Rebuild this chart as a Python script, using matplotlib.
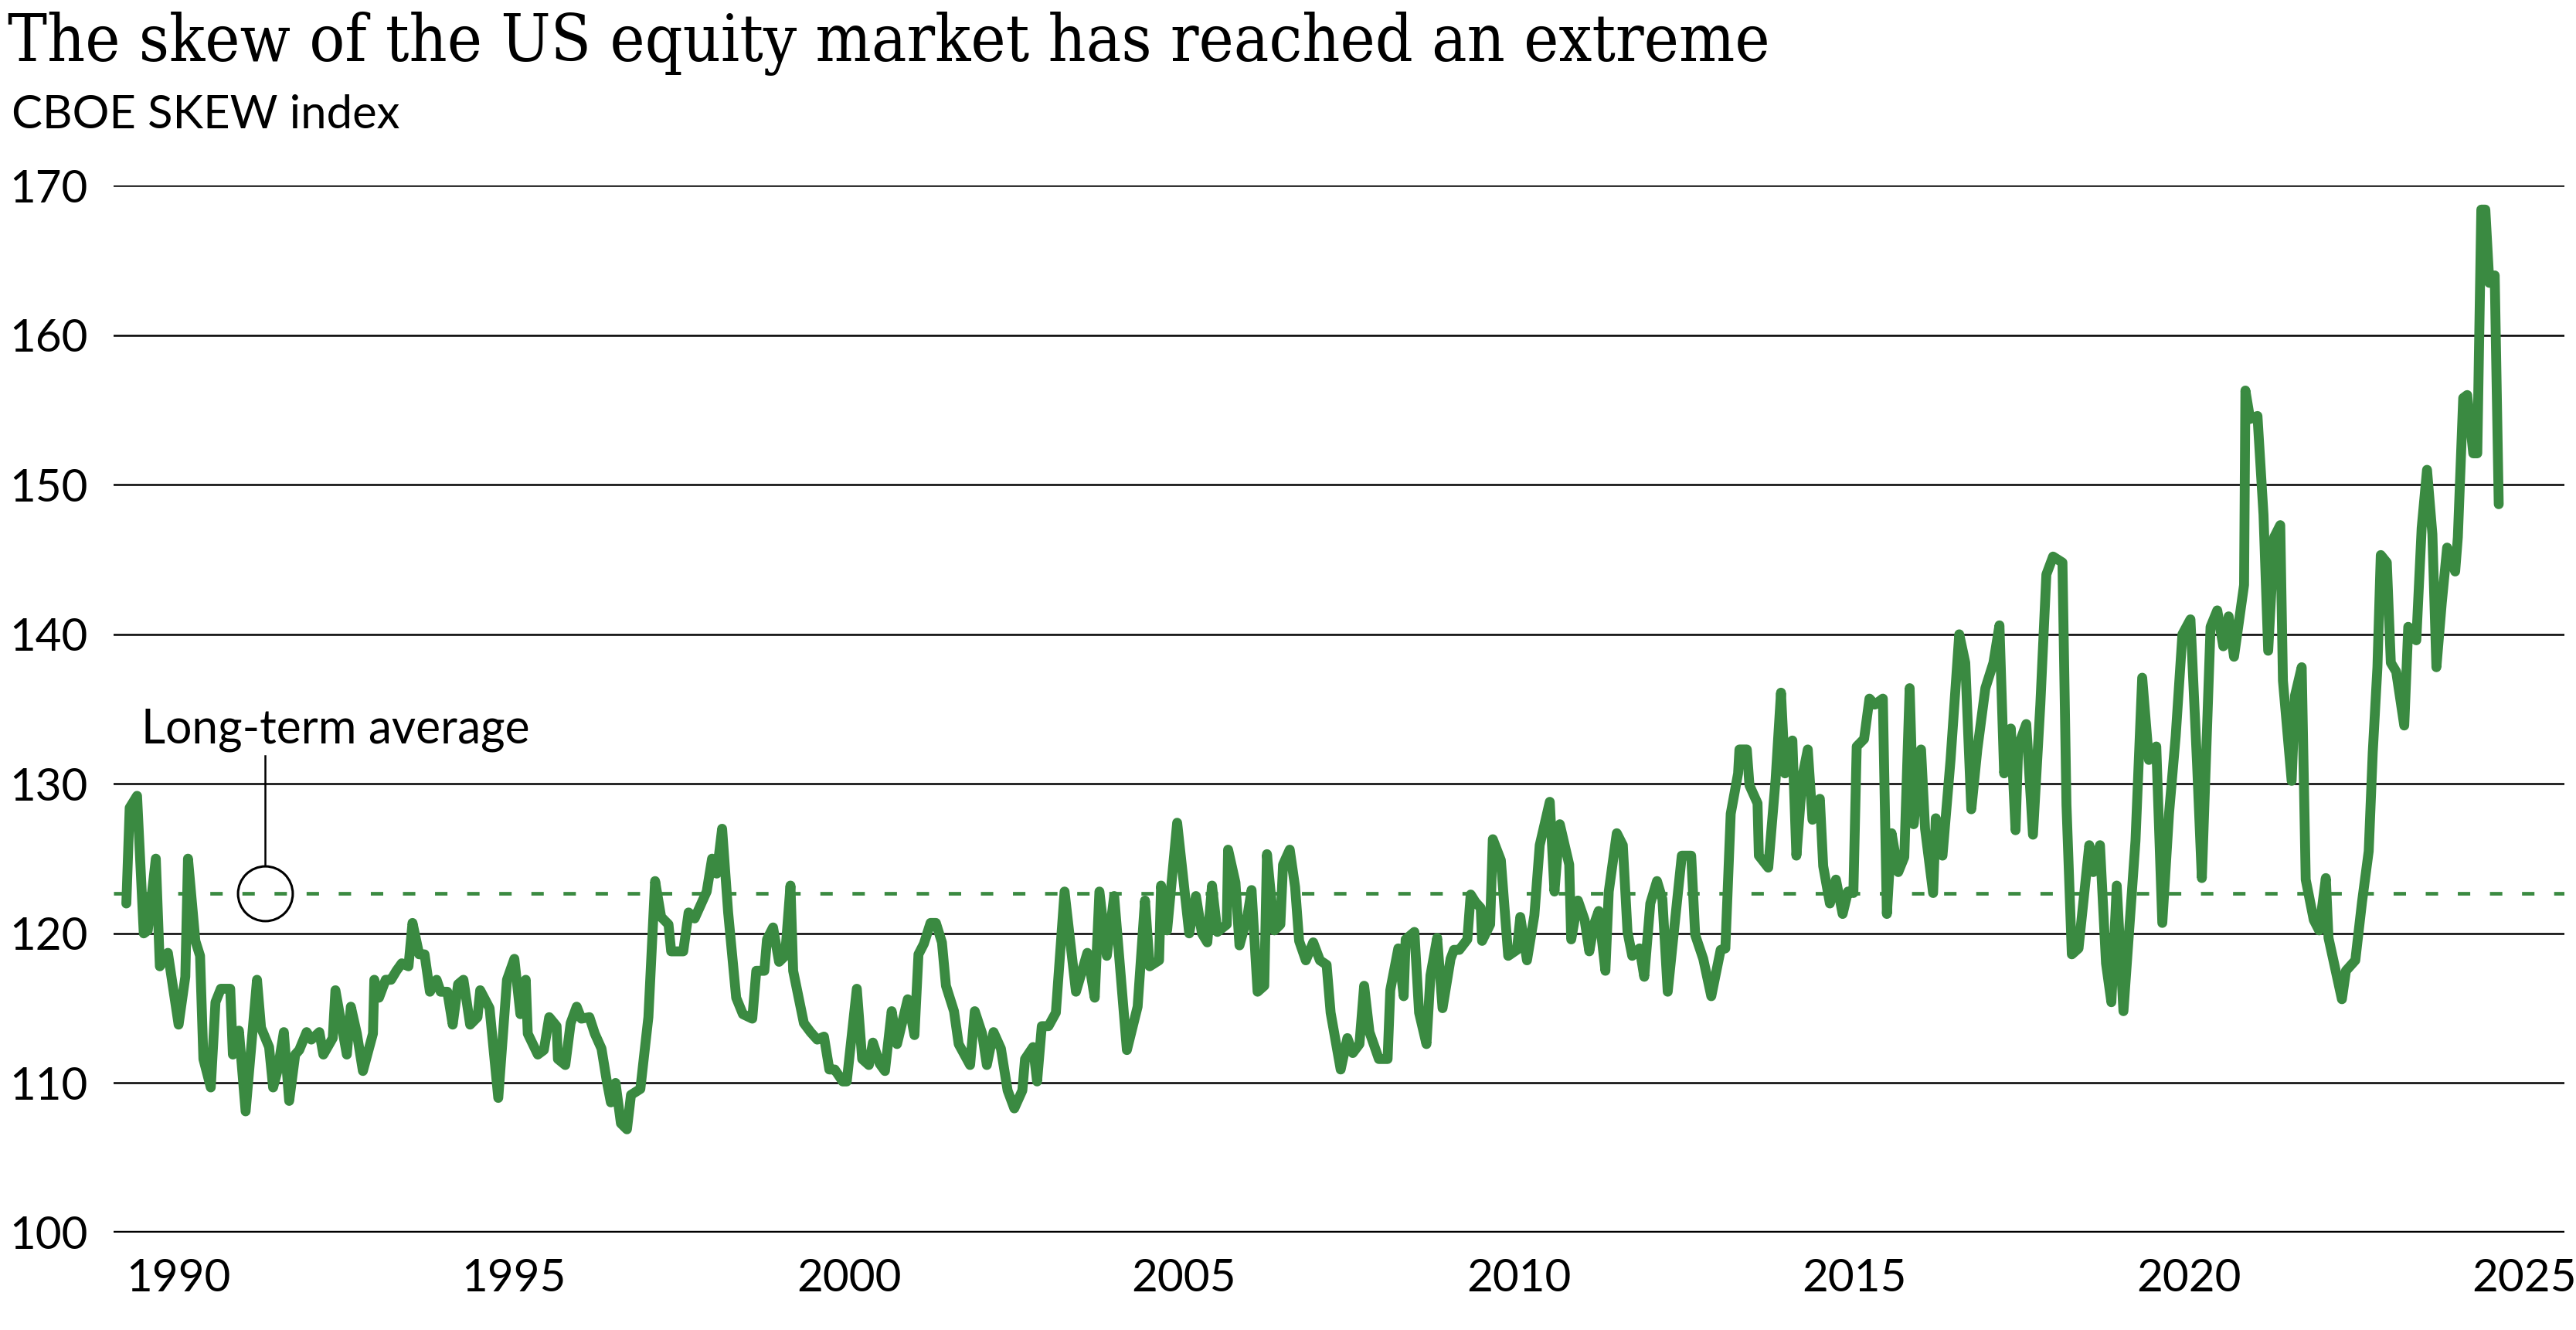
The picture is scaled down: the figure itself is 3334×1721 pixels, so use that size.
import matplotlib
matplotlib.use("Agg")
import matplotlib.pyplot as plt
import numpy as np

# CBOE SKEW index (decimal year, index level)
dates_1990 = [1990.00, 1990.05, 1990.16, 1990.26, 1990.32, 1990.44, 1990.50, 1990.62, 1990.78, 1990.88,
              1990.92, 1991.03, 1991.10, 1991.15, 1991.26, 1991.33, 1991.41, 1991.55, 1991.59, 1991.68,
              1991.78, 1991.95, 1992.01, 1992.13, 1992.19, 1992.26, 1992.35, 1992.43, 1992.52, 1992.58,
              1992.69, 1992.76, 1992.88, 1992.94, 1993.08, 1993.12, 1993.29, 1993.35, 1993.44, 1993.53,
              1993.68, 1993.70, 1993.77, 1993.87, 1993.95, 1994.03, 1994.11, 1994.21, 1994.27, 1994.37,
              1994.45, 1994.53, 1994.63, 1994.69, 1994.79, 1994.87, 1994.95, 1995.03, 1995.13, 1995.24,
              1995.28, 1995.42, 1995.55, 1995.68, 1995.79, 1995.88, 1995.96]
skew_1990 = [122.0, 128.4, 129.2, 120.0, 120.2, 125.0, 117.8, 118.7, 113.9, 117.1,
             125.0, 119.5, 118.5, 111.6, 109.7, 115.4, 116.3, 116.3, 111.9, 113.5,
             108.1, 116.9, 113.7, 112.4, 109.7, 110.9, 113.4, 108.8, 111.9, 112.2,
             113.4, 112.9, 113.4, 111.9, 113.0, 116.2, 111.9, 115.1, 113.3, 110.8,
             113.3, 116.9, 115.7, 116.9, 116.9, 117.5, 118.0, 117.8, 120.7, 118.6,
             118.6, 116.1, 116.9, 116.1, 116.1, 113.9, 116.6, 116.9, 113.9, 114.4,
             116.2, 115.0, 109.0, 116.9, 118.3, 114.6, 116.9]

dates_1996 = [1995.99, 1996.14, 1996.23, 1996.31, 1996.42, 1996.44, 1996.55, 1996.63, 1996.72, 1996.79,
              1996.91, 1996.99, 1997.09, 1997.17, 1997.23, 1997.30, 1997.38, 1997.47, 1997.53, 1997.67,
              1997.79, 1997.89, 1997.98, 1998.09, 1998.13, 1998.31, 1998.39, 1998.48, 1998.66, 1998.74,
              1998.81, 1998.89, 1998.98, 1999.10, 1999.20, 1999.34, 1999.40, 1999.52, 1999.56, 1999.65,
              1999.74, 1999.83, 1999.91, 1999.95, 2000.11, 2000.21, 2000.31, 2000.41, 2000.49, 2000.57,
              2000.69, 2000.75, 2000.90, 2000.98, 2001.08, 2001.14, 2001.24, 2001.32, 2001.42, 2001.50,
              2001.66, 2001.76]
skew_1996 = [113.3, 111.9, 112.2, 114.4, 113.8, 111.6, 111.2, 114.0, 115.1, 114.3,
             114.4, 113.3, 112.3, 110.1, 108.7, 110.0, 107.3, 106.9, 109.2, 109.6,
             114.4, 123.5, 121.1, 120.6, 118.8, 118.8, 121.4, 121.0, 122.8, 125.0,
             124.0, 127.0, 121.4, 115.7, 114.6, 114.3, 117.5, 117.5, 119.6, 120.4,
             118.1, 118.5, 123.2, 117.5, 114.0, 113.4, 112.9, 113.1, 110.9, 110.9,
             110.1, 110.1, 116.3, 111.6, 111.2, 112.7, 111.3, 110.8, 114.8, 112.6,
             115.6, 113.2]

dates_2002 = [2001.82, 2001.90, 2002.00, 2002.08, 2002.17, 2002.23, 2002.35, 2002.42, 2002.59, 2002.66,
              2002.77, 2002.84, 2002.94, 2003.05, 2003.15, 2003.25, 2003.37, 2003.41, 2003.53, 2003.59,
              2003.66, 2003.76, 2003.87, 2004.00, 2004.17, 2004.34, 2004.45, 2004.52, 2004.63, 2004.74,
              2004.93, 2005.09, 2005.20, 2005.27, 2005.41, 2005.44, 2005.53, 2005.68, 2005.86, 2005.96,
              2006.05, 2006.13, 2006.20, 2006.28, 2006.42, 2006.44, 2006.55, 2006.61, 2006.73, 2006.79,
              2006.88, 2006.98, 2007.02, 2007.13, 2007.22, 2007.26, 2007.36, 2007.44, 2007.50, 2007.60,
              2007.71, 2007.81]
skew_2002 = [118.6, 119.3, 120.7, 120.7, 119.4, 116.5, 114.8, 112.6, 111.2, 114.8,
             113.3, 111.2, 113.4, 112.3, 109.5, 108.3, 109.5, 111.6, 112.4, 110.1,
             113.8, 113.8, 114.7, 122.8, 116.1, 118.7, 115.7, 122.8, 118.5, 122.5,
             112.2, 115.1, 122.2, 117.8, 118.2, 123.2, 120.2, 127.4, 120.0, 122.5,
             120.0, 119.4, 123.2, 120.1, 120.6, 125.6, 123.4, 119.2, 121.2, 122.9,
             116.1, 116.5, 125.3, 120.2, 120.6, 124.6, 125.6, 123.1, 119.5, 118.2,
             119.4, 118.2]

dates_2008 = [2007.91, 2007.97, 2008.12, 2008.22, 2008.30, 2008.40, 2008.47, 2008.55, 2008.69, 2008.82,
              2008.86, 2008.98, 2009.06, 2009.09, 2009.22, 2009.29, 2009.40, 2009.46, 2009.56, 2009.64,
              2009.76, 2009.81, 2009.89, 2010.01, 2010.06, 2010.13, 2010.21, 2010.23, 2010.35, 2010.39,
              2010.51, 2010.62, 2010.75, 2010.80, 2010.90, 2011.01, 2011.09, 2011.24, 2011.31, 2011.39,
              2011.53, 2011.56, 2011.66, 2011.76, 2011.83, 2011.90, 2011.97, 2012.07, 2012.12, 2012.24,
              2012.33, 2012.40, 2012.47, 2012.58, 2012.65, 2012.74, 2012.84, 2012.92, 2013.00, 2013.11,
              2013.21, 2013.35, 2013.41, 2013.53, 2013.65, 2013.79]
skew_2008 = [117.9, 114.7, 110.9, 113.0, 112.0, 112.6, 116.5, 113.4, 111.6, 111.6,
             116.2, 119.0, 115.8, 119.6, 120.1, 114.7, 112.6, 117.2, 119.7, 115.0,
             118.3, 118.9, 118.9, 119.6, 122.6, 122.1, 121.7, 119.5, 120.6, 126.3,
             124.9, 118.5, 118.9, 121.1, 118.2, 121.2, 125.9, 128.8, 122.8, 127.3,
             124.6, 119.6, 122.2, 120.9, 118.8, 120.6, 121.5, 117.5, 122.8, 126.7,
             125.9, 120.1, 118.5, 119.0, 117.1, 122.0, 123.5, 122.3, 116.1, 120.9,
             125.2, 125.2, 119.9, 118.3, 115.8, 118.9]

dates_2014 = [2013.86, 2013.94, 2014.05, 2014.07, 2014.18, 2014.22, 2014.34, 2014.36, 2014.50, 2014.61,
              2014.69, 2014.75, 2014.86, 2014.92, 2015.01, 2015.09, 2015.16, 2015.27, 2015.32, 2015.42,
              2015.51, 2015.61, 2015.69, 2015.77, 2015.82, 2015.93, 2016.01, 2016.09, 2016.21, 2016.27,
              2016.34, 2016.44, 2016.53, 2016.61, 2016.67, 2016.78, 2016.84, 2016.96, 2017.00, 2017.10,
              2017.22, 2017.35, 2017.44, 2017.53, 2017.62, 2017.74, 2017.86, 2017.95, 2018.02, 2018.12,
              2018.19, 2018.23, 2018.35, 2018.45, 2018.56, 2018.65, 2018.75, 2018.89, 2018.95, 2019.03,
              2019.13, 2019.29, 2019.35, 2019.45, 2019.54, 2019.62, 2019.70]
skew_2014 = [119.0, 128.0, 130.7, 132.3, 132.3, 129.9, 128.7, 125.2, 124.4, 130.3,
             136.1, 130.7, 132.9, 125.2, 130.5, 132.3, 127.6, 129.0, 124.5, 122.0,
             123.6, 121.3, 122.8, 122.7, 132.5, 133.0, 135.7, 135.3, 135.7, 121.3,
             126.7, 124.1, 125.1, 136.4, 127.3, 132.3, 127.0, 122.7, 127.7, 125.2,
             131.6, 140.0, 138.1, 128.3, 132.3, 136.4, 138.1, 140.6, 130.7, 133.7,
             126.9, 132.5, 134.0, 126.6, 135.3, 144.0, 145.2, 144.8, 128.6, 118.6,
             119.0, 125.9, 124.1, 125.9, 118.0, 115.4, 123.2]

dates_2020 = [2019.80, 2019.98, 2020.08, 2020.18, 2020.29, 2020.38, 2020.48, 2020.58, 2020.68, 2020.80,
              2020.90, 2020.97, 2021.10, 2021.20, 2021.29, 2021.37, 2021.45, 2021.60, 2021.62, 2021.69,
              2021.80, 2021.89, 2021.96, 2022.05, 2022.14, 2022.18, 2022.31, 2022.36, 2022.46, 2022.52,
              2022.64, 2022.72, 2022.82, 2022.86, 2023.06, 2023.12, 2023.26, 2023.36, 2023.46, 2023.52,
              2023.59, 2023.64, 2023.73, 2023.79, 2023.87, 2023.99, 2024.05, 2024.17, 2024.25, 2024.33,
              2024.41, 2024.47, 2024.55, 2024.63, 2024.75, 2024.79, 2024.87, 2024.93, 2025.02, 2025.08,
              2025.14, 2025.20, 2025.26, 2025.34, 2025.40]
skew_2020 = [114.8, 126.2, 137.1, 131.6, 132.5, 120.7, 128.0, 133.2, 140.0, 141.0,
             131.2, 123.7, 140.5, 141.6, 139.2, 141.2, 138.5, 143.3, 156.3, 154.4,
             154.6, 148.0, 138.9, 146.5, 147.3, 136.9, 130.2, 135.9, 137.8, 123.6,
             120.9, 120.2, 123.7, 119.7, 115.6, 117.5, 118.2, 122.1, 125.5, 132.1,
             137.8, 145.3, 144.8, 138.1, 137.5, 133.9, 140.5, 139.6, 147.1, 151.0,
             146.7, 137.8, 142.1, 145.8, 144.2, 146.5, 155.8, 156.0, 152.1, 152.1,
             168.4, 168.4, 163.5, 164.0, 148.7]

long_term_avg = 122.7
year_ticks = [1990, 1995, 2000, 2005, 2010, 2015, 2020, 2025]
level_ticks = [100, 110, 120, 130, 140, 150, 160, 170]

dates = np.concatenate([dates_1990, dates_1996, dates_2002, dates_2008, dates_2014, dates_2020])
skew = np.concatenate([skew_1990, skew_1996, skew_2002, skew_2008, skew_2014, skew_2020])

green = "#3a8a41"
plt.rcParams["font.family"] = ["Lato", "DejaVu Sans"]

fig = plt.figure(figsize=(16.67, 8.605), dpi=200)
ax = fig.add_axes([0.0441, 0.0733, 0.9514, 0.7871])

# gridlines
for lev in level_ticks:
    ax.axhline(lev, color="black", lw=1.6 if lev == 100 else 0.9, zorder=1)

ax.axhline(long_term_avg, color=green, lw=1.7, dashes=(3.4, 5.4), zorder=2)
ax.plot(dates, skew, color=green, lw=4.6, solid_joinstyle="round", solid_capstyle="round", zorder=3)

# long-term average callout
ax.plot([1992.07], [long_term_avg], marker="o", ms=25.5, mfc="none", mec="black", mew=1.1, zorder=4)
ax.plot([1992.07, 1992.07], [124.55, 131.9], color="black", lw=0.9, zorder=4)
ax.text(1990.22, 132.75, "Long-term average", fontsize=21.8, ha="left", va="baseline")

ax.set_xlim(1989.81, 2026.38)
ax.set_ylim(100, 170)
ax.set_xticks(year_ticks)
ax.set_xticklabels([str(y) for y in year_ticks])
for lab in ax.get_xticklabels():
    lab.set_horizontalalignment("left")
ax.set_yticks(level_ticks)
ax.tick_params(axis="both", length=0, labelsize=21, colors="black")
ax.tick_params(axis="y", pad=12)
ax.tick_params(axis="x", pad=12)
for s in ax.spines.values():
    s.set_visible(False)

fig.text(0.003, 0.954, "The skew of the US equity market has reached an extreme",
         fontsize=30.6, family="DejaVu Serif", stretch="condensed", ha="left", va="baseline")
fig.text(0.0045, 0.9035, "CBOE SKEW index", fontsize=21.5, ha="left", va="baseline")

fig.savefig("out.png", dpi=200)
